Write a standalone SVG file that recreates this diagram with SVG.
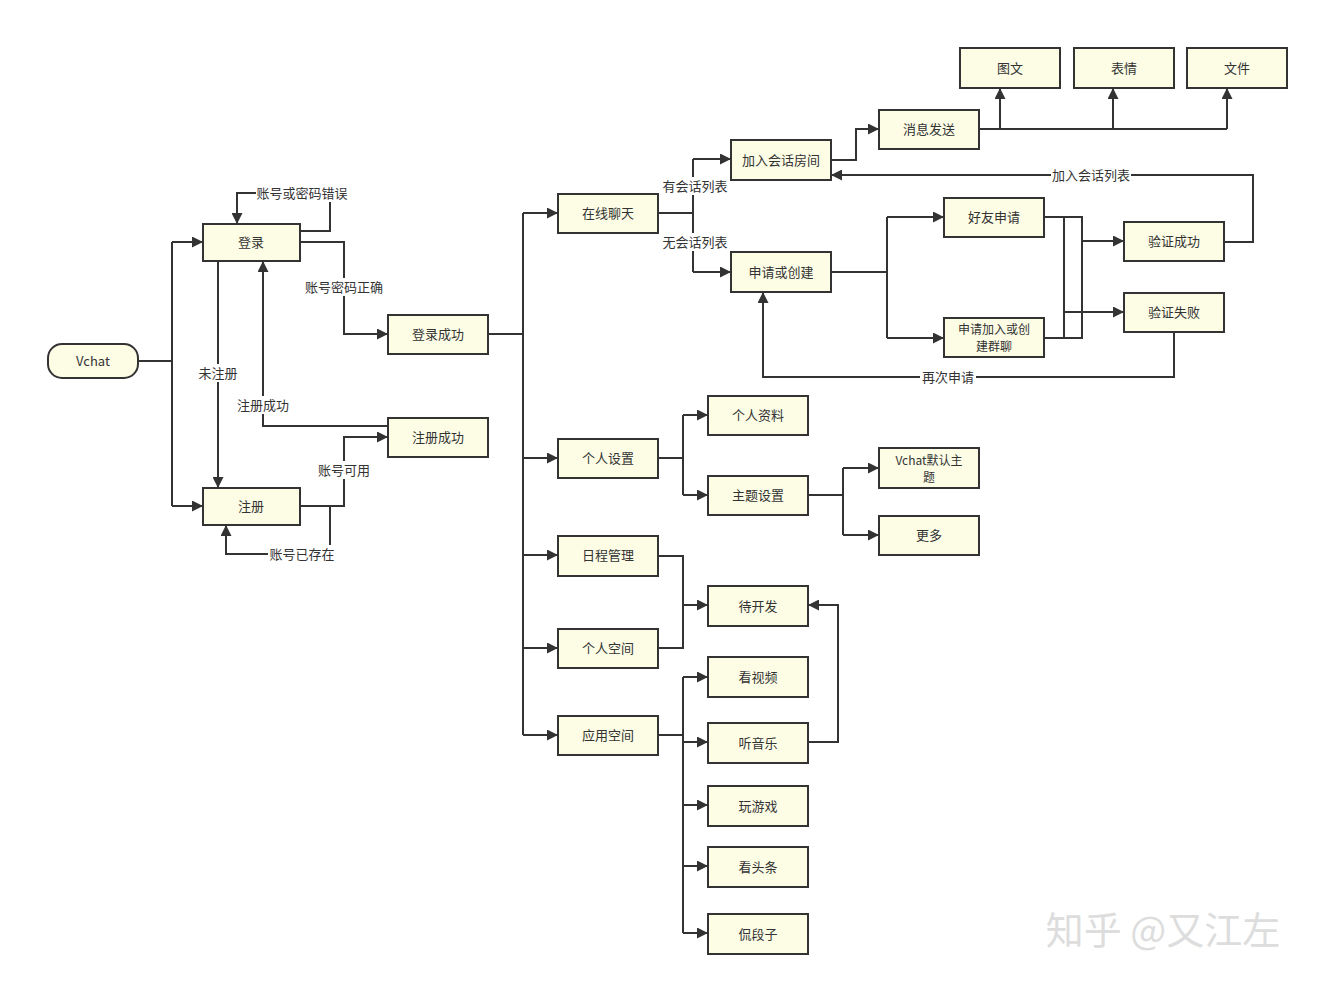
<svg xmlns="http://www.w3.org/2000/svg" width="1319" height="986" viewBox="0 0 1319 986">
<style>
.n{fill:#fdfde6;stroke:#333;stroke-width:2}
.t{font-family:"Noto Sans CJK SC","Liberation Sans",sans-serif;font-size:13px;fill:#333;text-anchor:middle;dominant-baseline:central}
.s{font-size:12px}
.c path{fill:none;stroke:#333;stroke-width:2}
.l{font-family:"Noto Sans CJK SC",sans-serif;font-size:13px;fill:#333;text-anchor:middle;dominant-baseline:central}
.lb{fill:#fff}
</style>
<defs><marker id="a" viewBox="0 0 10 10" refX="10" refY="5" markerWidth="13" markerHeight="11" orient="auto" markerUnits="userSpaceOnUse"><path d="M0,0L10,5L0,10z" fill="#333"/></marker></defs>
<rect width="1319" height="986" fill="#fff"/>
<g class="c">
<path d="M138,361H172"/><path d="M172,242V506"/><path d="M172,242H203" marker-end="url(#a)"/><path d="M172,506H203" marker-end="url(#a)"/>
<path d="M300,231H330V193H237V224" marker-end="url(#a)"/>
<path d="M300,242H344V334H388" marker-end="url(#a)"/>
<path d="M218,261V488" marker-end="url(#a)"/>
<path d="M388,426H263V261" marker-end="url(#a)"/>
<path d="M300,506H344V437H388" marker-end="url(#a)"/>
<path d="M330,506V554H226V525" marker-end="url(#a)"/>
<path d="M488,334H523"/><path d="M523,213V735"/>
<path d="M523,213H558" marker-end="url(#a)"/><path d="M523,458H558" marker-end="url(#a)"/><path d="M523,555H558" marker-end="url(#a)"/><path d="M523,648H558" marker-end="url(#a)"/><path d="M523,735H558" marker-end="url(#a)"/>
<path d="M658,213H693"/><path d="M693,159V272"/><path d="M693,159H731" marker-end="url(#a)"/><path d="M693,272H731" marker-end="url(#a)"/>
<path d="M831,160H856V129H879" marker-end="url(#a)"/>
<path d="M979,129H1227"/><path d="M1000,129V88" marker-end="url(#a)"/><path d="M1113,129V88" marker-end="url(#a)"/><path d="M1227,129V88" marker-end="url(#a)"/>
<path d="M831,272H887"/><path d="M887,217V338"/><path d="M887,217H944" marker-end="url(#a)"/><path d="M887,338H944" marker-end="url(#a)"/>
<path d="M1044,217H1082V338H1044"/><path d="M1064,217V338"/>
<path d="M1082,241H1124" marker-end="url(#a)"/><path d="M1064,312H1124" marker-end="url(#a)"/>
<path d="M1224,242H1253V175H831" marker-end="url(#a)"/>
<path d="M1174,332V377H763V292" marker-end="url(#a)"/>
<path d="M658,458H683"/><path d="M683,415V495"/><path d="M683,415H708" marker-end="url(#a)"/><path d="M683,495H708" marker-end="url(#a)"/>
<path d="M808,495H843"/><path d="M843,468V535"/><path d="M843,468H879" marker-end="url(#a)"/><path d="M843,535H879" marker-end="url(#a)"/>
<path d="M658,556H683V648H658"/><path d="M683,605H708" marker-end="url(#a)"/>
<path d="M808,742H838V605H808" marker-end="url(#a)"/>
<path d="M658,735H683"/><path d="M683,677V933"/>
<path d="M683,677H708" marker-end="url(#a)"/><path d="M683,742H708" marker-end="url(#a)"/><path d="M683,805H708" marker-end="url(#a)"/><path d="M683,866H708" marker-end="url(#a)"/><path d="M683,933H708" marker-end="url(#a)"/>
<g>
<rect class="lb" x="256" y="184" width="92" height="18"/><text class="l" x="302" y="192">账号或密码错误</text>
<rect class="lb" x="304" y="278" width="80" height="18"/><text class="l" x="344" y="286">账号密码正确</text>
<rect class="lb" x="198" y="364" width="40" height="18"/><text class="l" x="218" y="372">未注册</text>
<rect class="lb" x="236" y="396" width="54" height="18"/><text class="l" x="263" y="404">注册成功</text>
<rect class="lb" x="317" y="461" width="54" height="18"/><text class="l" x="344" y="469">账号可用</text>
<rect class="lb" x="268" y="545" width="68" height="18"/><text class="l" x="302" y="553">账号已存在</text>
<rect class="lb" x="661" y="177" width="68" height="18"/><text class="l" x="695" y="185">有会话列表</text>
<rect class="lb" x="661" y="233" width="68" height="18"/><text class="l" x="695" y="241">无会话列表</text>
<rect class="lb" x="1051" y="166" width="80" height="18"/><text class="l" x="1091" y="174">加入会话列表</text>
<rect class="lb" x="920" y="368" width="56" height="18"/><text class="l" x="948" y="376">再次申请</text>
</g>
</g>
<g id="vchat"><rect class="n" x="48" y="344" width="90" height="34" rx="14"/><text class="t" x="93" y="360">Vchat</text></g>
<g id="login"><rect class="n" x="203" y="224" width="97" height="37"/><text class="t" x="251" y="241">登录</text></g>
<g id="reg"><rect class="n" x="203" y="488" width="97" height="37"/><text class="t" x="251" y="505">注册</text></g>
<g id="loginok"><rect class="n" x="388" y="315" width="100" height="39"/><text class="t" x="438" y="333">登录成功</text></g>
<g id="regok"><rect class="n" x="388" y="418" width="100" height="39"/><text class="t" x="438" y="436">注册成功</text></g>
<g id="chat"><rect class="n" x="558" y="194" width="100" height="39"/><text class="t" x="608" y="212">在线聊天</text></g>
<g id="pset"><rect class="n" x="558" y="439" width="100" height="39"/><text class="t" x="608" y="457">个人设置</text></g>
<g id="sched"><rect class="n" x="558" y="536" width="100" height="40"/><text class="t" x="608" y="554">日程管理</text></g>
<g id="space"><rect class="n" x="558" y="629" width="100" height="39"/><text class="t" x="608" y="647">个人空间</text></g>
<g id="app"><rect class="n" x="558" y="716" width="100" height="39"/><text class="t" x="608" y="734">应用空间</text></g>
<g id="room"><rect class="n" x="731" y="140" width="100" height="40"/><text class="t" x="781" y="159">加入会话房间</text></g>
<g id="apply"><rect class="n" x="731" y="252" width="100" height="40"/><text class="t" x="781" y="271">申请或创建</text></g>
<g id="send"><rect class="n" x="879" y="110" width="100" height="39"/><text class="t" x="929" y="128">消息发送</text></g>
<g id="img"><rect class="n" x="960" y="48" width="100" height="40"/><text class="t" x="1010" y="67">图文</text></g>
<g id="emo"><rect class="n" x="1074" y="48" width="100" height="40"/><text class="t" x="1124" y="67">表情</text></g>
<g id="file"><rect class="n" x="1187" y="48" width="100" height="40"/><text class="t" x="1237" y="67">文件</text></g>
<g id="friend"><rect class="n" x="944" y="198" width="100" height="39"/><text class="t" x="994" y="216">好友申请</text></g>
<g id="group"><rect class="n" x="944" y="318" width="100" height="39"/><text class="t s" x="994" y="328">申请加入或创</text><text class="t s" x="994" y="345">建群聊</text></g>
<g id="ok"><rect class="n" x="1124" y="222" width="100" height="39"/><text class="t" x="1174" y="240">验证成功</text></g>
<g id="fail"><rect class="n" x="1124" y="293" width="100" height="39"/><text class="t" x="1174" y="311">验证失败</text></g>
<g id="profile"><rect class="n" x="708" y="396" width="100" height="39"/><text class="t" x="758" y="414">个人资料</text></g>
<g id="theme"><rect class="n" x="708" y="476" width="100" height="39"/><text class="t" x="758" y="494">主题设置</text></g>
<g id="deftheme"><rect class="n" x="879" y="448" width="100" height="40"/><text class="t s" x="929" y="459">Vchat默认主</text><text class="t s" x="929" y="476">题</text></g>
<g id="more"><rect class="n" x="879" y="516" width="100" height="39"/><text class="t" x="929" y="534">更多</text></g>
<g id="todo"><rect class="n" x="708" y="586" width="100" height="40"/><text class="t" x="758" y="605">待开发</text></g>
<g id="video"><rect class="n" x="708" y="657" width="100" height="40"/><text class="t" x="758" y="676">看视频</text></g>
<g id="music"><rect class="n" x="708" y="723" width="100" height="40"/><text class="t" x="758" y="742">听音乐</text></g>
<g id="game"><rect class="n" x="708" y="786" width="100" height="40"/><text class="t" x="758" y="805">玩游戏</text></g>
<g id="news"><rect class="n" x="708" y="847" width="100" height="40"/><text class="t" x="758" y="866">看头条</text></g>
<g id="joke"><rect class="n" x="708" y="914" width="100" height="40"/><text class="t" x="758" y="933">侃段子</text></g>
<text x="1163" y="944" font-family="Noto Sans CJK SC,sans-serif" font-size="38" fill="#ddd" text-anchor="middle">知乎 @又江左</text>
</svg>
